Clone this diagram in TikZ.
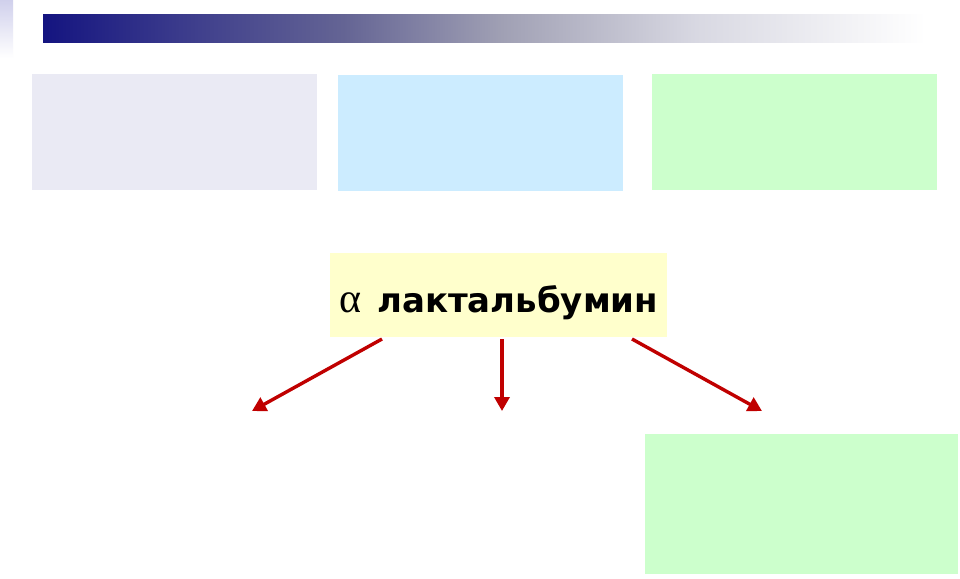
\documentclass[tikz,border=0pt]{standalone}
\usepackage{fontspec}
\setmainfont{DejaVu Sans}
\newfontfamily\alphafont{Liberation Serif}
\usetikzlibrary{arrows.meta}
\definecolor{navy}{RGB}{20,20,128}
\definecolor{bmid0}{RGB}{60,60,140}
\definecolor{bmid1}{RGB}{100,100,148}
\definecolor{bmid2}{RGB}{160,160,180}
\definecolor{bmid3}{RGB}{216,216,226}
\definecolor{lavbox}{RGB}{234,234,244}
\definecolor{bluebox}{RGB}{204,236,255}
\definecolor{greenbox}{RGB}{204,255,204}
\definecolor{yellowbox}{RGB}{255,255,204}
\definecolor{arrowred}{RGB}{192,0,0}
\definecolor{striplav}{RGB}{208,208,236}
\pgfdeclarehorizontalshading{bannershade}{100bp}{
  color(0bp)=(navy);
  color(25bp)=(navy);
  color(33bp)=(bmid0);
  color(42bp)=(bmid1);
  color(51bp)=(bmid2);
  color(62bp)=(bmid3);
  color(75bp)=(white);
  color(100bp)=(white)}
\begin{document}
\begin{tikzpicture}[x=1pt,y=-1pt,
  box/.style={draw=none,inner sep=0pt,anchor=north west},
  arr/.style={draw=arrowred,line width=3.4pt,-{Triangle[length=14pt,width=15pt]}}]
\useasboundingbox (0,0) rectangle (960,578);
\fill[white] (0,0) rectangle (960,578);
% left strip
\shade[top color=striplav,bottom color=white] (0,0) rectangle (13,58);
% banner
\shade[shading=bannershade] (43,15) rectangle (925,43);
% boxes
\node[box,fill=lavbox,minimum width=285pt,minimum height=116pt] (b1) at (32,74) {};
\node[box,fill=bluebox,minimum width=285pt,minimum height=116pt] (b2) at (338,75) {};
\node[box,fill=greenbox,minimum width=285pt,minimum height=116pt] (b3) at (652,74) {};
\node[box,fill=greenbox,minimum width=313pt,minimum height=140pt] (b4) at (645,434) {};
% center node
\node[box,fill=yellowbox,minimum width=337pt,minimum height=84pt] (c) at (330,253) {};
\node[anchor=base west,inner sep=0pt] (ct) at (339,312)
  {\fontsize{42}{46}\selectfont{\alphafont α}\hspace{16pt}\bfseries\fontsize{34}{40}\selectfont лактальбумин};
% arrows
\coordinate (s1) at (382,339);
\coordinate (s2) at (502,339);
\coordinate (s3) at (632,339);
\coordinate (e1) at (252,411);
\coordinate (e2) at (502,411);
\coordinate (e3) at (762,411);
\draw[arr] (s1) -- (e1);
\draw[arr] (s2) -- (e2);
\draw[arr] (s3) -- (e3);
\end{tikzpicture}
\end{document}
